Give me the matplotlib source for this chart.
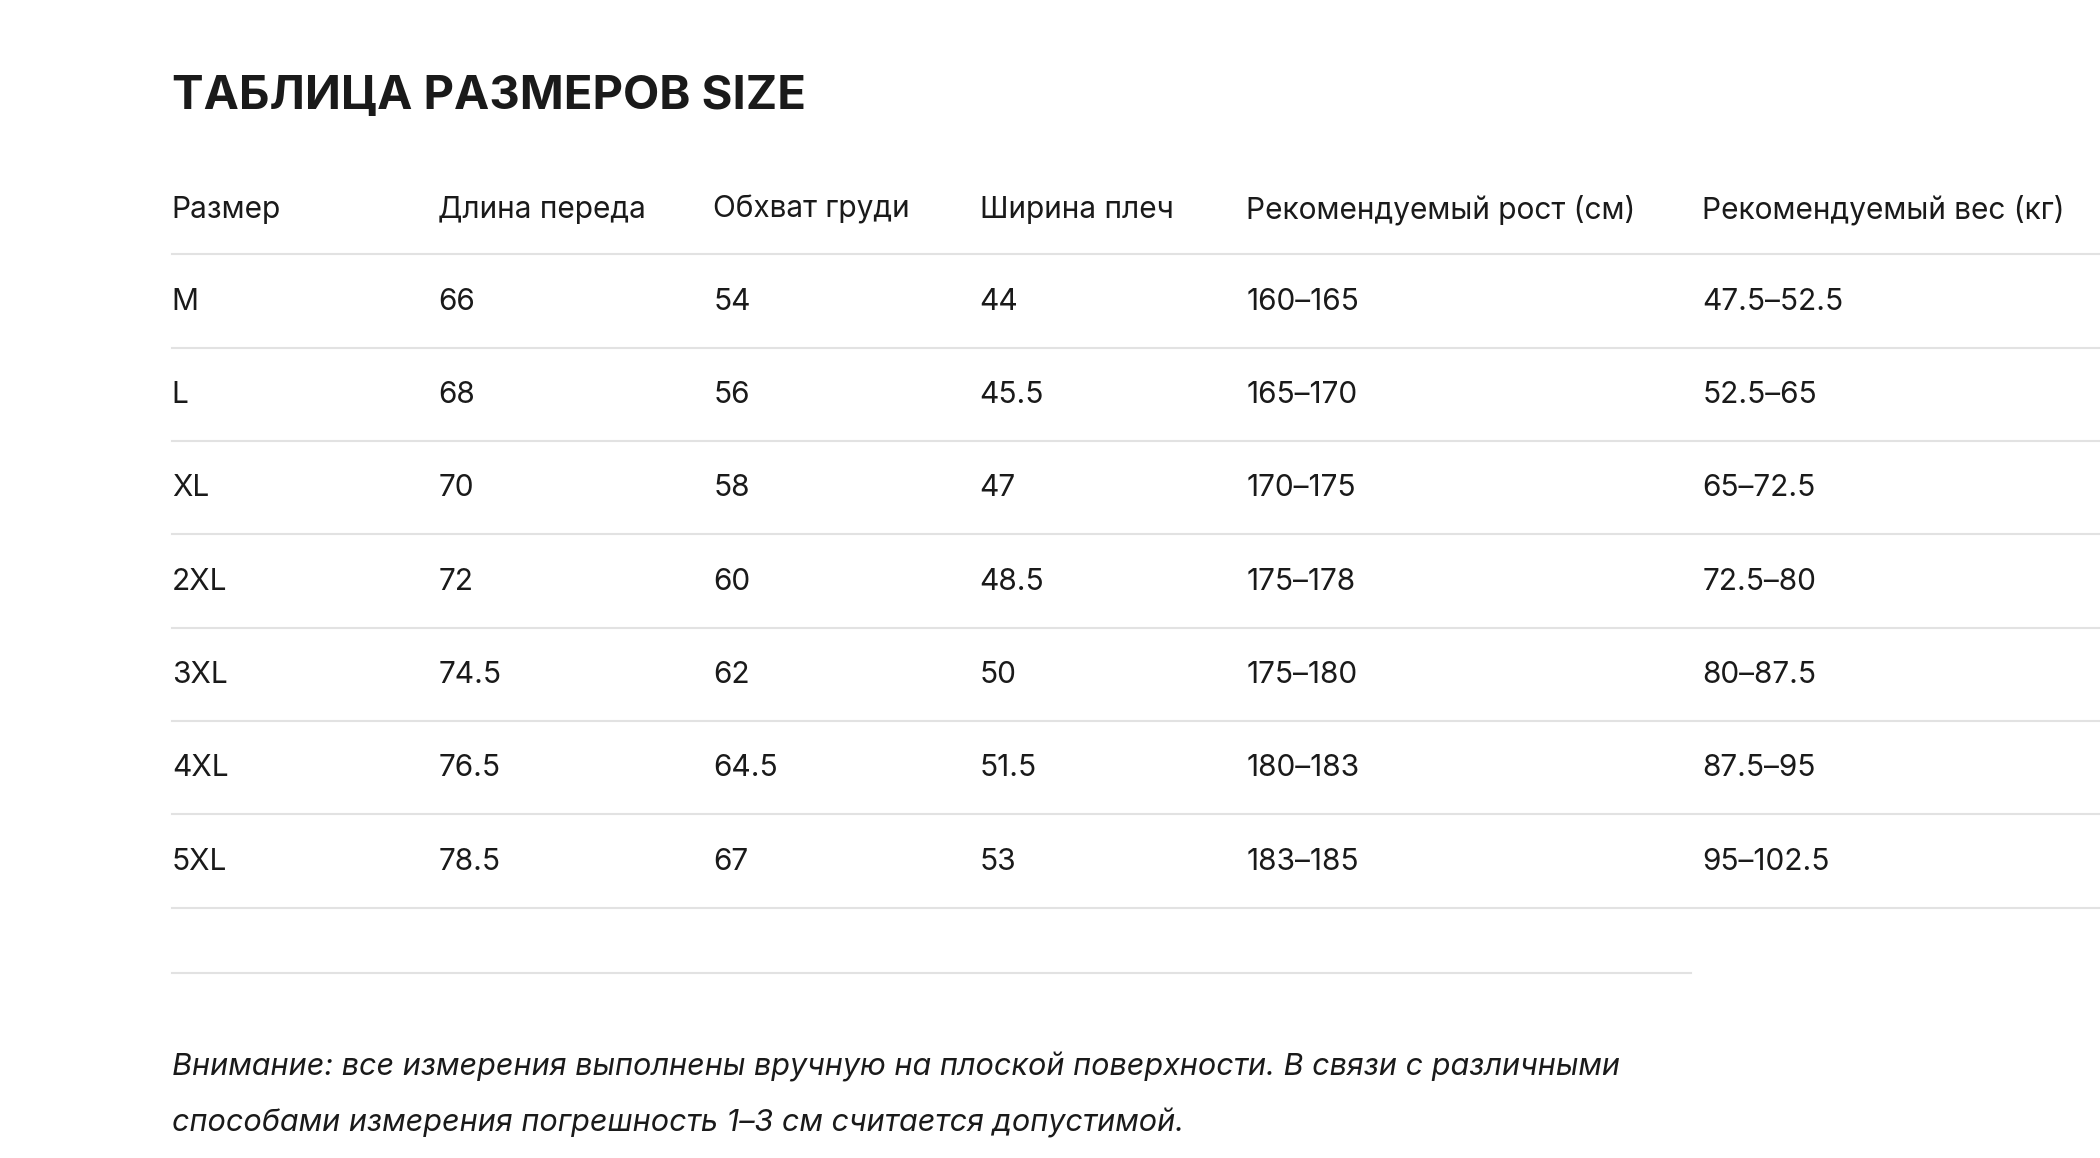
import matplotlib
matplotlib.use('Agg')
import matplotlib.pyplot as plt

title = "ТАБЛИЦА РАЗМЕРОВ SIZE"
headers = ["Размер", "Длина переда", "Обхват груди", "Ширина плеч",
           "Рекомендуемый рост (см)", "Рекомендуемый вес (кг)"]
sizes = ["M", "L", "XL", "2XL", "3XL", "4XL", "5XL"]
front_len = ["66", "68", "70", "72", "74.5", "76.5", "78.5"]
chest = ["54", "56", "58", "60", "62", "64.5", "67"]
shoulder = ["44", "45.5", "47", "48.5", "50", "51.5", "53"]
height = ["160–165", "165–170", "170–175", "175–178", "175–180", "180–183", "183–185"]
weight = ["47.5–52.5", "52.5–65", "65–72.5", "72.5–80", "80–87.5", "87.5–95", "95–102.5"]
note = ["Внимание: все измерения выполнены вручную на плоской поверхности. В связи с различными",
        "способами измерения погрешность 1–3 см считается допустимой."]

W, H = 1552, 856
col_x = [127, 324, 527, 724, 921, 1258]
TXT = '#1a1a1a'
LINE = '#e2e2e2'

plt.rcParams['font.family'] = ['Inter', 'DejaVu Sans']
fig = plt.figure(figsize=(21, 11.58), dpi=100, facecolor='white')
ax = fig.add_axes([0, 0, 1, 1])
ax.set_xlim(0, W)
ax.set_ylim(H, 0)
ax.axis('off')

ax.text(127, 72, title, fontsize=34, fontweight='bold', color=TXT, va='center')

for x, h in zip(col_x, headers):
    ax.text(x, 155, h, fontsize=21.5, color=TXT, va='center')
ax.plot([127, W], [188, 188], color=LINE, lw=1.5)

columns = [sizes, front_len, chest, shoulder, height, weight]
for i in range(len(sizes)):
    y = 223 + 69 * i
    for x, col in zip(col_x, columns):
        ax.text(x, y, col[i], fontsize=21.5, color=TXT, va='center')
    ax.plot([127, W], [y + 34, y + 34], color=LINE, lw=1.5)

ax.plot([127, 1250], [719, 719], color=LINE, lw=1.5)

for j, line in enumerate(note):
    ax.text(127, 789 + 41 * j, line, fontsize=22, style='italic', color=TXT, va='center')

fig.savefig('out.png', dpi=100, facecolor='white')
